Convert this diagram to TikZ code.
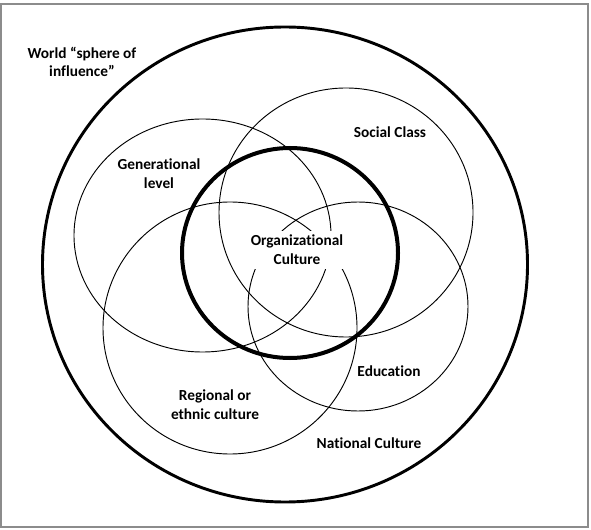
\documentclass[tikz,border=0pt]{standalone}
\usepackage{fontspec}
\setmainfont[Ligatures=NoCommon]{Carlito}
\begin{document}
\begin{tikzpicture}[x=0.75pt,y=-0.75pt,
  ring/.style={draw=black, line width=0.7pt},
  outerring/.style={draw=black, line width=2.2pt},
  corering/.style={draw=black, line width=3pt},
  lbl/.style={font=\bfseries\fontsize{11.5}{14}\selectfont, align=center, inner sep=0pt, text=black},
  corelbl/.style={lbl, fill=white, inner xsep=6pt, inner ysep=3.5pt}]
\useasboundingbox (0,0) rectangle (591,530);
\draw[draw=gray!90, line width=0.8pt] (1,4) rectangle (588,527);
% thin circles
\draw[ring] (202.5,235.5) ellipse [x radius=128.5, y radius=116.5];
\draw[ring] (346,212.5) ellipse [x radius=127, y radius=124.5];
\draw[ring] (230,328) ellipse [x radius=127, y radius=126];
\draw[ring] (358,306.5) ellipse [x radius=110, y radius=104.5];
% outer and core
\draw[outerring] (285,264.5) ellipse [x radius=242.5, y radius=237.5];
\draw[corering] (290,253) ellipse [x radius=108, y radius=105];
% labels
\node[lbl] (world) at (82,62) {World “sphere of\\influence”};
\node[lbl] (gen) at (159,174) {Generational\\level};
\node[lbl] (social) at (390,132) {Social Class};
\node[corelbl] (org) at (297,250) {Organizational\\Culture};
\node[lbl] (edu) at (389,371) {Education};
\node[lbl] (reg) at (215,405) {Regional or\\ethnic culture};
\node[lbl] (nat) at (369,443) {National Culture};
\end{tikzpicture}
\end{document}
